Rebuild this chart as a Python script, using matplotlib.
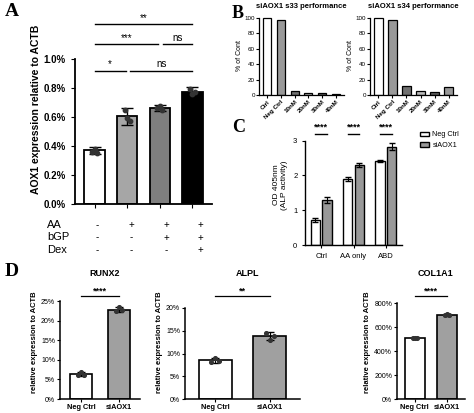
import matplotlib.pyplot as plt
import numpy as np

plt.rcParams['font.family'] = ['Liberation Sans', 'DejaVu Sans']

W, H = 474, 413

# Panel A
a_vals = [0.37, 0.605, 0.66, 0.77]
a_pts = [[0.36, 0.38, 0.35], [0.65, 0.59, 0.57], [0.66, 0.675, 0.645], [0.79, 0.76, 0.775]]
a_err = [0.025, 0.06, 0.02, 0.035]
a_colors = ['white', '#a6a6a6', '#7f7f7f', 'black']
a_rows = {'AA': ['-', '+', '+', '+'], 'bGP': ['-', '-', '+', '+'], 'Dex': ['-', '-', '-', '+']}

# Panel B
b_cats = ['Ctrl', 'Neg Ctrl', '10nM', '20nM', '30nM', '40nM']
b_s33 = [100, 97, 5, 3, 2.5, 1]
b_s34 = [100, 97, 11, 5, 4, 10]
b_colors = ['white', '#999999', '#707070', '#bbbbbb', '#606060', '#999999']

# Panel C
c_groups = ['Ctrl', 'AA only', 'ABD']
c_neg = [0.72, 1.9, 2.42]
c_si = [1.3, 2.3, 2.82]
c_neg_err = [0.05, 0.05, 0.03]
c_si_err = [0.08, 0.06, 0.1]

# Panel D
d_genes = ['RUNX2', 'ALPL', 'COL1A1']
d_neg = [6.3, 8.5, 510]
d_si = [22.8, 13.8, 700]
d_neg_pts = [[6.0, 6.8, 6.2], [8.2, 9.0, 8.4], [505, 512, 510]]
d_si_pts = [[22.4, 23.4, 22.7], [14.5, 13.0, 13.9], [700, 705, 698]]
d_ymax = [25, 20, 800]
d_step = [5, 5, 200]
d_sig = ['****', '**', '****']


def px_axes(fig, x0, y0, x1, y1):
    return fig.add_axes([x0 / W, 1 - y1 / H, (x1 - x0) / W, (y1 - y0) / H])


def style(ax, top, lw=1.0):
    ax.spines['top'].set_visible(False)
    ax.spines['right'].set_visible(False)
    ax.spines['left'].set_bounds(0, top)
    for s in ['left', 'bottom']:
        ax.spines[s].set_linewidth(lw)


fig = plt.figure(figsize=(W / 100, H / 100), dpi=100)

# ---- A
ax = px_axes(fig, 75, 14, 212, 204)
x = np.arange(4)
ax.bar(x, a_vals, width=0.62, color=a_colors, edgecolor='black', linewidth=1.3, yerr=a_err,
       error_kw=dict(capsize=4, elinewidth=1, capthick=1))
for i, p in enumerate(a_pts):
    ax.scatter(np.full(3, i) + np.array([-0.08, 0.0, 0.08]), p, s=10, color='#333333', zorder=3)
ax.set_ylim(0, 1.31)
ax.set_xlim(-0.6, 3.6)
ax.set_yticks(np.arange(0, 1.01, 0.2))
ax.set_yticklabels([f'{v:.1f}%' for v in np.arange(0, 1.01, 0.2)], fontsize=7, fontweight='bold')
ax.set_xticks(x)
ax.set_xticklabels([])
ax.tick_params(length=3)
ax.set_ylabel('AOX1 expression relative to ACTB', fontsize=7.5, fontweight='bold', labelpad=2)
style(ax, 1.0, 1.3)


def sigbar(ax, x0, x1, y, txt, fs=7, dy=0.01):
    ax.plot([x0, x1], [y, y], color='black', lw=1)
    ax.text((x0 + x1) / 2, y + dy, txt, ha='center', va='bottom', fontsize=fs)

sigbar(ax, 0, 3, 1.24, '**')
sigbar(ax, 0, 1.95, 1.10, '***')
sigbar(ax, 2.1, 3, 1.10, 'ns')
sigbar(ax, 0, 0.95, 0.92, '*')
sigbar(ax, 1.1, 3, 0.92, 'ns')
for j, (lab, vals) in enumerate(a_rows.items()):
    yy = 225 + j * 12.5
    fig.text(47 / W, 1 - yy / H, lab, fontsize=8, va='center')
    for i, v in enumerate(vals):
        xx = (97 + i * 34.5) / W
        fig.text(xx, 1 - yy / H, v, fontsize=7, va='center', ha='center')
fig.text(5 / W, 1 - 12 / H, 'A', fontsize=14, fontweight='bold', family='Liberation Serif', va='center')

# ---- B
for (x0, x1, vals, title) in [(259, 344, b_s33, 'siAOX1 s33 performance'),
                               (370, 457, b_s34, 'siAOX1 s34 performance')]:
    ax = px_axes(fig, x0, 16, x1, 95)
    xb = np.arange(len(b_cats))
    ax.bar(xb, vals, width=0.6, color=b_colors, edgecolor='black', linewidth=0.9)
    ax.set_ylim(0, 102)
    ax.set_xlim(-0.6, 5.6)
    ax.set_yticks([0, 20, 40, 60, 80, 100])
    ax.tick_params(labelsize=4.5, length=2, pad=1)
    ax.set_xticks(xb)
    ax.set_xticklabels(b_cats, rotation=45, ha='right', fontsize=4.5, fontweight='bold',
                       rotation_mode='anchor')
    ax.set_ylabel('% of Cont', fontsize=5, labelpad=1)
    ax.set_title(title, fontsize=5.5, fontweight='bold', pad=6)
    style(ax, 100, 0.9)
fig.text(232 / W, 1 - 13 / H, 'B', fontsize=13, fontweight='bold', family='Liberation Serif', va='center')

# ---- C
ax = px_axes(fig, 305, 125, 402, 245)
xc = np.arange(3)
w = 0.28
ax.bar(xc - 0.18, c_neg, width=w, color='white', edgecolor='black', linewidth=1, yerr=c_neg_err,
       error_kw=dict(capsize=2, elinewidth=0.8), label='Neg Ctrl')
ax.bar(xc + 0.18, c_si, width=w, color='#999999', edgecolor='black', linewidth=1, yerr=c_si_err,
       error_kw=dict(capsize=2, elinewidth=0.8), label='siAOX1')
ax.set_ylim(0, 3.45)
ax.set_xlim(-0.5, 2.5)
ax.set_yticks([0, 1, 2, 3])
ax.tick_params(labelsize=5.5, length=2)
ax.set_xticks(xc)
ax.set_xticklabels(c_groups, fontsize=5.5)
ax.set_ylabel('OD 405nm\n(ALP activity)', fontsize=6)
style(ax, 3, 1)
for i in xc:
    ax.plot([i - 0.18, i + 0.18], [3.2, 3.2], color='black', lw=1)
    ax.text(i, 3.25, '****', ha='center', va='bottom', fontsize=6.5, fontweight='bold')
ax.legend(loc='upper left', bbox_to_anchor=(1.12, 1.0), frameon=False, fontsize=5.2,
          handlelength=1.2, handleheight=0.6, handletextpad=0.5)
fig.text(232 / W, 1 - 128 / H, 'C', fontsize=13, fontweight='bold', family='Liberation Serif', va='center')

# ---- D
d_pos = [(60, 140, 301), (185, 300, 308), (397, 465, 303)]
for k, (x0, x1, ytop) in enumerate(d_pos):
    ymax = d_ymax[k]
    top_lim = ymax * (399 - 285) / (399 - ytop)
    ax = px_axes(fig, x0, 285, x1, 399)
    ax.bar([0, 1], [d_neg[k], d_si[k]], width=0.6, color=['white', '#a0a0a0'], edgecolor='black',
           linewidth=1.2, yerr=[np.std(d_neg_pts[k]) * 1.5, np.std(d_si_pts[k]) * 1.5],
           error_kw=dict(capsize=3, elinewidth=0.9))
    for i, p in enumerate([d_neg_pts[k], d_si_pts[k]]):
        ax.scatter(np.full(3, i) + np.array([-0.07, 0.0, 0.07]), p, s=7, color='#333333', zorder=3)
    ax.set_ylim(0, top_lim)
    ax.set_xlim(-0.55, 1.55)
    ticks = np.arange(0, ymax + 0.1, d_step[k])
    ax.set_yticks(ticks)
    ax.set_yticklabels([f'{t:g}%' for t in ticks], fontsize=5)
    ax.tick_params(length=2, pad=1.5)
    ax.set_xticks([0, 1])
    ax.set_xticklabels(['Neg Ctrl', 'siAOX1'], fontsize=5.3, fontweight='bold')
    ax.set_ylabel('relative expression to ACTB', fontsize=5.5, fontweight='bold', labelpad=2)
    style(ax, ymax, 1.1)
    yb = top_lim * 0.9
    ax.plot([0, 1], [yb, yb], color='black', lw=0.9)
    ax.text(0.5, yb + top_lim * 0.01, d_sig[k], ha='center', va='bottom', fontsize=6.5, fontweight='bold')
    fig.text((x0 + x1) / 2 / W + 0.01, 1 - 273 / H, d_genes[k], ha='center', va='center',
             fontsize=6.5, fontweight='bold')
fig.text(5 / W, 1 - 272 / H, 'D', fontsize=14, fontweight='bold', family='Liberation Serif', va='center')

fig.savefig('out.png', dpi=100)
